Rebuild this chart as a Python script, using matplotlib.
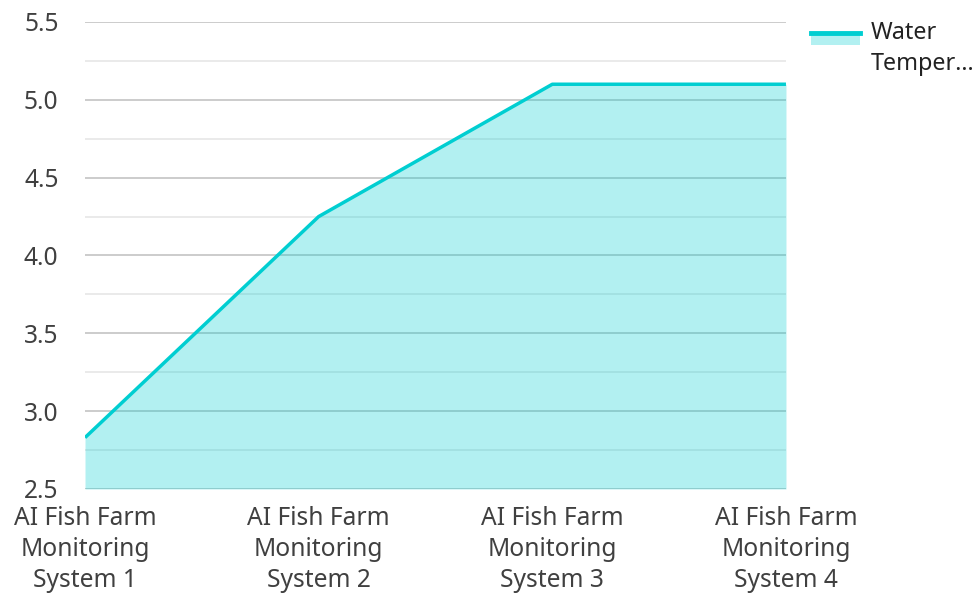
import matplotlib.pyplot as plt
from matplotlib.legend_handler import HandlerBase
from matplotlib.patches import Rectangle
from matplotlib.lines import Line2D

plt.rcParams['font.family'] = ['Noto Sans', 'DejaVu Sans']

categories = ['AI Fish Farm\nMonitoring\nSystem 1', 'AI Fish Farm\nMonitoring\nSystem 2',
              'AI Fish Farm\nMonitoring\nSystem 3', 'AI Fish Farm\nMonitoring\nSystem 4']
water_temp = [2.83, 4.25, 5.1, 5.1]
series_name = 'Water\nTemper...'
y_ticks = [2.5, 3.0, 3.5, 4.0, 4.5, 5.0, 5.5]
y_minor = [2.75, 3.25, 3.75, 4.25, 4.75, 5.25]

line_color = '#00CED1'
fs = 17.7
leg_fs = 16.8


class AreaHandler(HandlerBase):
    # fill swatch with the line on its top edge, level with the first text line
    def create_artists(self, legend, orig_handle, xd, yd, width, height, fontsize, trans):
        top = yd + height * 1.5
        rect = Rectangle((xd, top - height * 0.75), width, height * 0.75,
                         facecolor=line_color, alpha=0.3, edgecolor='none', transform=trans)
        ln = Line2D([xd, xd + width], [top, top], color=line_color, lw=3.5, transform=trans)
        return [rect, ln]


fig = plt.figure(figsize=(9.76, 5.94), dpi=100)
ax = fig.add_axes([0.0871, 0.1768, 0.7182, 0.7862])

x = list(range(len(categories)))
ax.fill_between(x, water_temp, 2.5, color=line_color, alpha=0.3, lw=0, zorder=3)
ax.plot(x, water_temp, color=line_color, lw=2.5, zorder=4, solid_capstyle='butt')

ax.set_xlim(0, len(categories) - 1)
ax.set_ylim(2.5, 5.5)
ax.set_yticks(y_ticks)
ax.set_yticklabels([f'{v:.1f}' for v in y_ticks])
ax.set_yticks(y_minor, minor=True)
ax.set_xticks(x)
ax.set_xticklabels(categories)

ax.grid(axis='y', which='major', color='#c4c4c4', lw=1.2, zorder=1)
ax.grid(axis='y', which='minor', color='#e6e6e6', lw=1.2, zorder=1)
ax.set_axisbelow(True)
for s in ax.spines.values():
    s.set_visible(False)
ax.tick_params(axis='both', which='both', length=0, labelsize=fs, colors='#404040')
ax.tick_params(axis='y', pad=19)
ax.tick_params(axis='x', pad=12)
for lbl in ax.get_xticklabels():
    lbl.set_linespacing(1.33)

ax.legend([object()], [series_name], handler_map={object: AreaHandler()},
          loc='upper left', bbox_to_anchor=(811 / 976, 1 - 21 / 594),
          bbox_transform=fig.transFigure, borderpad=0, borderaxespad=0,
          frameon=False, fontsize=leg_fs, handlelength=2.1, handletextpad=0.45,
          labelcolor='#222222')
leg = ax.get_legend()
leg.get_texts()[0].set_linespacing(1.4)

fig.savefig('out.png', dpi=100)
